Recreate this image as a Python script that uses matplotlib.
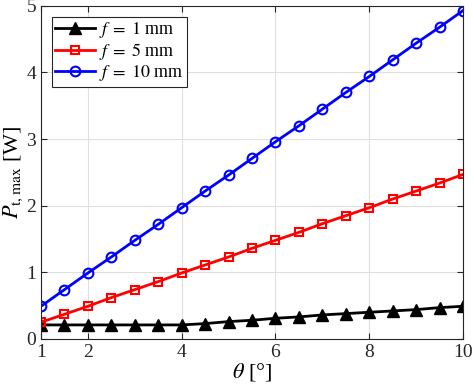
import matplotlib
matplotlib.use("Agg")
import matplotlib.pyplot as plt
import numpy as np

plt.rcParams['font.family'] = ['Liberation Serif', 'DejaVu Serif']
plt.rcParams['mathtext.fontset'] = 'stix'

theta = [1, 1.5, 2, 2.5, 3, 3.5, 4, 4.5, 5, 5.5, 6, 6.5, 7, 7.5, 8, 8.5, 9, 9.5, 10]
p_f1 = [0.21, 0.21, 0.21, 0.21, 0.21, 0.21, 0.21, 0.23, 0.26, 0.28, 0.31, 0.33, 0.36, 0.38, 0.40, 0.42, 0.44, 0.47, 0.49]
p_f5 = [0.25, 0.37, 0.49, 0.62, 0.74, 0.86, 0.99, 1.11, 1.23, 1.36, 1.48, 1.60, 1.73, 1.85, 1.97, 2.10, 2.22, 2.34, 2.47]
p_f10 = [0.49, 0.74, 0.99, 1.23, 1.48, 1.72, 1.97, 2.22, 2.46, 2.71, 2.96, 3.20, 3.45, 3.70, 3.94, 4.19, 4.44, 4.68, 4.93]
labels = [r'$f\;=\;1$ mm', r'$f\;=\;5$ mm', r'$f\;=\;10$ mm']
xticks = [1, 2, 4, 6, 8, 10]
yticks = [0, 1, 2, 3, 4, 5]

fig = plt.figure(figsize=(4.74, 3.90), dpi=100)
ax = fig.add_axes([0.0865, 0.131, 0.8905, 0.854])

ax.plot(theta, p_f1, color='black', lw=2, marker='^', ms=8.5, mfc='black', mec='black', label=labels[0])
ax.plot(theta, p_f5, color='red', lw=2, marker='s', ms=6, mfc='none', mec='red', mew=1.5, label=labels[1])
ax.plot(theta, p_f10, color='blue', lw=2, marker='o', ms=7, mfc='none', mec='blue', mew=1.5, label=labels[2])

ax.set_xlim(1, 10)
ax.set_ylim(0, 5)
ax.set_xticks(xticks)
ax.set_yticks(yticks)
ax.grid(True, color='#e0e0e0', lw=0.8)
ax.set_axisbelow(True)
ax.tick_params(direction='in', labelsize=14, colors='#262626', length=4, top=True, right=True)
for s in ax.spines.values():
    s.set_color('#262626')
    s.set_linewidth(0.8)
ax.set_xlabel(r'$\theta$ [°]', fontsize=16, labelpad=0)
ax.set_ylabel(r'$P_{\mathrm{t,max}}$ [W]', fontsize=16, labelpad=1)

leg = ax.legend(loc='upper left', fontsize=13, fancybox=False, edgecolor='#262626',
                framealpha=1, borderpad=0.2, handlelength=2.2, labelspacing=0.05,
                borderaxespad=0.6, handletextpad=0.2)
leg.get_frame().set_linewidth(0.8)

fig.savefig('out.png', dpi=100)
